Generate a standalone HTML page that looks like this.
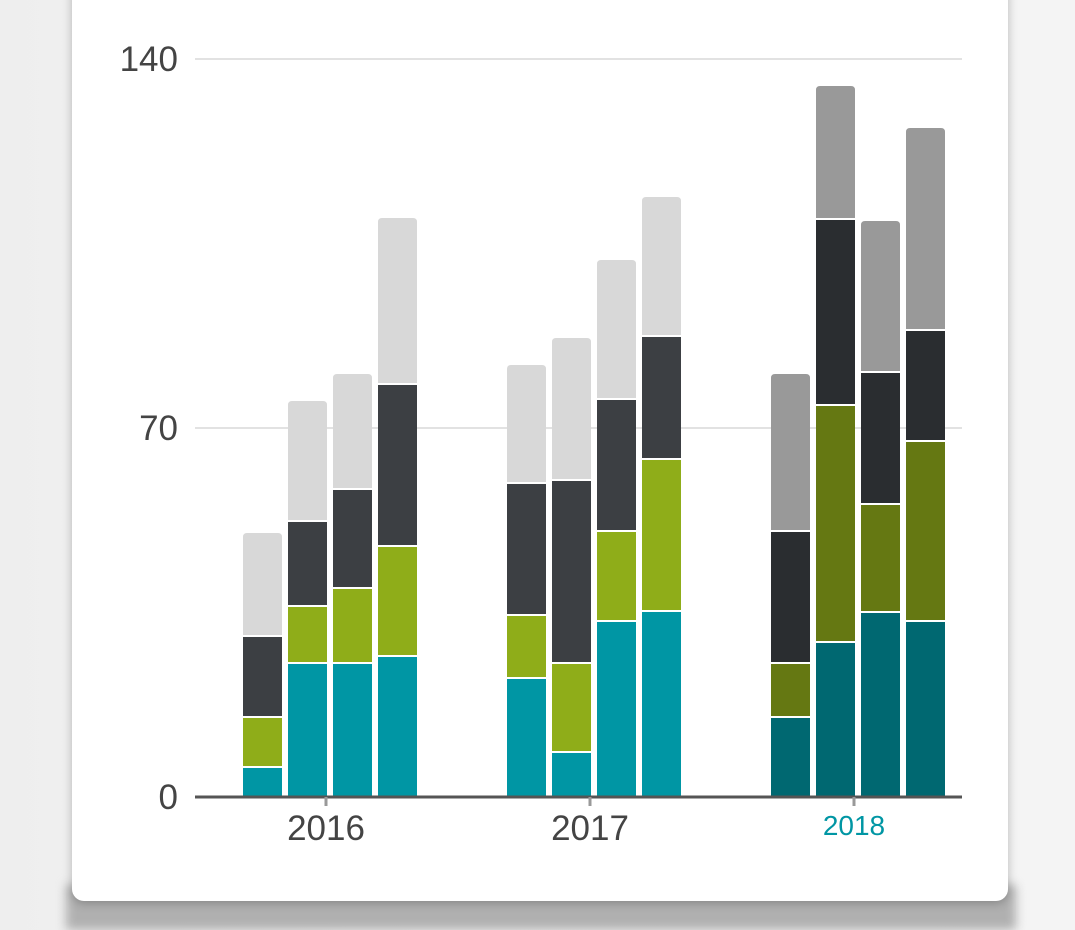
<!DOCTYPE html>
<html><head><style>
html,body{margin:0;padding:0;}
body{width:1075px;height:925px;overflow:hidden;background:linear-gradient(90deg,#eeeeee,#f6f6f6 40%,#f4f4f4);position:relative;font-family:"Liberation Sans",sans-serif;}
.shadow{position:absolute;left:66px;top:885px;width:950px;height:45px;background:#b0b0b0;filter:blur(5px);}
.card{position:absolute;left:72px;top:-20px;width:936px;height:921px;background:#fff;border-radius:12px;box-shadow:0 2px 10px rgba(0,0,0,0.25);}
svg{position:absolute;left:0;top:0;}
</style></head><body>
<div class="shadow"></div>
<div class="card"></div>
<svg width="1075" height="925" xmlns="http://www.w3.org/2000/svg">
<g stroke="#e2e2e2" stroke-width="2"><line x1="195" y1="59" x2="962" y2="59"/><line x1="195" y1="428" x2="962" y2="428"/></g>
<g font-size="35" fill="#444" text-anchor="end" font-family="Liberation Sans, sans-serif">
<text x="178" y="71">140</text><text x="178" y="440">70</text><text x="178" y="809">0</text></g>
<g id="bars"></g>
<line x1="195" y1="797" x2="962" y2="797" stroke="#555" stroke-width="3"/>
<g stroke="#999" stroke-width="3"><line x1="326" y1="797" x2="326" y2="806"/><line x1="590" y1="797" x2="590" y2="806"/><line x1="854" y1="797" x2="854" y2="806"/></g>
<g font-size="35" fill="#444" text-anchor="middle" font-family="Liberation Sans, sans-serif">
<text x="326" y="840">2016</text><text x="590" y="840">2017</text></g>
<text x="854" y="835" font-size="28" fill="#0096a4" text-anchor="middle" font-family="Liberation Sans, sans-serif">2018</text>
</svg>
<script>
var A=["#0096a4","#8fad19","#3c3f43","#d8d8d8"],B=["#006871","#657812","#2a2d30","#999999"];
var d=[
[243,A,[768,718,637,533]],[288,A,[664,607,522,401]],[333,A,[664,589,490,374]],[378,A,[657,547,385,218]],
[507,A,[679,616,484,365]],[552,A,[753,664,481,338]],[597,A,[622,532,400,260]],[642,A,[612,460,337,197]],
[771,B,[718,664,532,374]],[816,B,[643,406,220,86]],[861,B,[613,505,373,221]],[906,B,[622,442,331,128]]];
var s="";
d.forEach(function(b){var x=b[0],c=b[1],t=b[2],bot=797;
for(var i=0;i<4;i++){var top=t[i];
if(i==3){s+='<path d="M'+x+' '+bot+'V'+(top+4)+'Q'+x+' '+top+' '+(x+4)+' '+top+'H'+(x+35)+'Q'+(x+39)+' '+top+' '+(x+39)+' '+(top+4)+'V'+bot+'Z" fill="'+c[i]+'"/>';}
else s+='<rect x="'+x+'" y="'+top+'" width="39" height="'+(bot-top)+'" fill="'+c[i]+'"/>';
bot=top-2;}});
document.getElementById("bars").innerHTML=s;
</script>
</body></html>
